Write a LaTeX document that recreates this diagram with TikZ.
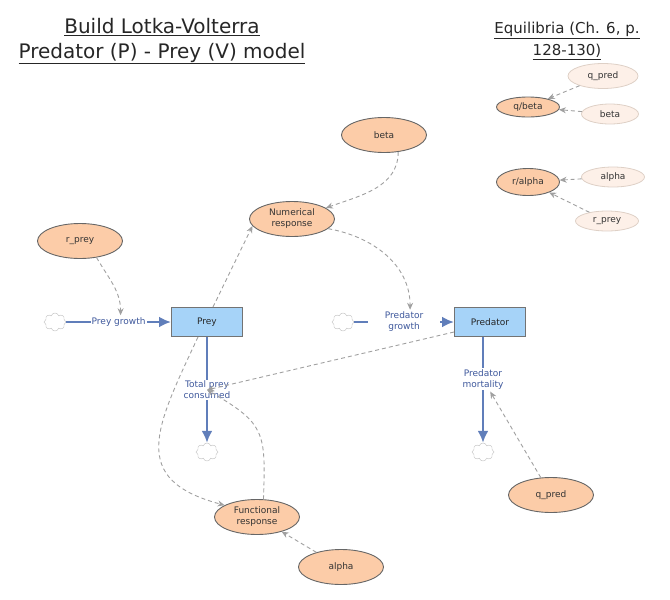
\documentclass[tikz,border=0pt]{standalone}
\usepackage{xcolor}
\usepackage{fontspec}
\setmainfont{DejaVu Sans}
\usepackage{tikz}
\usetikzlibrary{shapes.geometric,shapes.symbols,arrows.meta}
\definecolor{stockblue}{RGB}{166,211,248}
\definecolor{auxpeach}{RGB}{252,204,168}
\definecolor{ghostpeach}{RGB}{253,240,232}
\definecolor{ghostline}{RGB}{222,208,198}
\definecolor{flowblue}{RGB}{96,126,186}
\definecolor{labelblue}{RGB}{62,88,156}
\definecolor{linkgray}{RGB}{160,160,160}

\begin{document}
\begin{tikzpicture}[x=1pt,y=-1pt,>=Latex,font=\fontsize{9}{11}\selectfont]
\tikzstyle{stock}=[rectangle,draw=black!55,line width=1pt,fill=stockblue,minimum width=71pt,minimum height=29pt,text=black!85]
\tikzstyle{aux}=[ellipse,draw=black!60,line width=0.9pt,fill=auxpeach,minimum width=85pt,minimum height=35pt,inner sep=0pt,align=center,text=black!80]
\tikzstyle{ghost}=[ellipse,draw=ghostline,line width=0.8pt,fill=ghostpeach,minimum width=63pt,minimum height=20pt,inner sep=0pt,text=black!80]
\tikzstyle{cloudnode}=[cloud,cloud puffs=8,aspect=1.3,draw=black!25,fill=white,minimum width=22pt,minimum height=18pt,inner sep=0pt]
\tikzstyle{flow}=[draw=flowblue,line width=2.8pt,-{Latex[length=12pt,width=11pt]}]
\tikzstyle{flowlabel}=[fill=white,text=labelblue,align=center,inner sep=1pt]
\tikzstyle{link}=[draw=linkgray,line width=0.9pt,dash pattern=on 4pt off 3pt,-{Stealth[length=7pt,width=6pt]}]
\tikzstyle{heading}=[align=center,text=black!85]
\useasboundingbox (0,0) rectangle (670,600);

% titles
\node[heading,font=\fontsize{20}{25}\selectfont] (title) at (162,41) {\underline{Build Lotka-Volterra}\\\underline{Predator (P) - Prey (V) model}};
\node[heading,font=\fontsize{15}{22}\selectfont] (eqtitle) at (567,41) {\underline{Equilibria (Ch. 6, p.}\\\underline{128-130)}};

% stocks and converters
\node[stock] (prey) at (207,322) {Prey};
\node[stock] (pred) at (490,322) {Predator};
\node[aux] (rprey) at (80,241) {r\_prey};
\node[aux] (beta) at (384,135) {beta};
\node[aux] (nr) at (292,219) {Numerical\\response};
\node[aux] (fr) at (257,517) {Functional\\response};
\node[aux] (alpha) at (341,567) {alpha};
\node[aux] (qpred) at (551,495) {q\_pred};

% equilibria
\node[aux,minimum width=63pt,minimum height=20pt] (qbeta) at (528,107) {q/beta};
\node[aux,minimum width=63pt,minimum height=27pt] (ralpha) at (528,182) {r/alpha};
\node[ghost,minimum width=70pt,minimum height=25pt] (gqpred) at (603,76) {q\_pred};
\node[ghost,minimum width=57pt] (gbeta) at (610,114) {beta};
\node[ghost] (galpha) at (613,177) {alpha};
\node[ghost] (grprey) at (607,221) {r\_prey};

% sources and sinks
\node[cloudnode] (srcprey) at (55,322) {};
\node[cloudnode] (sinkprey) at (207,452) {};
\node[cloudnode] (srcpred) at (343,322) {};
\node[cloudnode] (sinkpred) at (483,452) {};

% flows
\draw[flow] (srcprey) -- (prey) node[midway,flowlabel] (pg) {Prey growth};
\draw[flow] (prey) -- (sinkprey) node[midway,flowlabel] (tpc) {Total prey\\consumed};
\draw[flow] (srcpred) -- (pred) node[midway,flowlabel,minimum width=72pt] (pdg) {Predator\\growth};
\draw[flow] ([xshift=-7pt]pred.south) -- (sinkpred) node[pos=0.4,flowlabel] (pm) {Predator\\mortality};

% links
\draw[link] (rprey.-45) to[out=-60,in=90] ([xshift=2pt]pg.north);
\draw[link] ([xshift=6pt]prey.north) -- (nr.-170);
\draw[link] (beta.-50) to[out=-90,in=20] (nr.18);
\draw[link] (nr.-15) to[out=-10,in=90] ([xshift=6pt]pdg.north);
\draw[link] ([yshift=-10pt]pred.west) -- (tpc.center);
\draw[link] (fr.70) to[out=88,in=-30,looseness=1.4] (tpc.center);
\draw[link] ([xshift=-9pt]prey.south) to[out=-115,in=165,looseness=1.5] (fr.160);
\draw[link] (alpha) -- (fr);
\draw[link] (qpred) -- (pm);
\draw[link] (gqpred) -- (qbeta);
\draw[link] (gbeta) -- (qbeta);
\draw[link] (galpha) -- (ralpha);
\draw[link] (grprey) -- (ralpha);
\end{tikzpicture}
\end{document}
